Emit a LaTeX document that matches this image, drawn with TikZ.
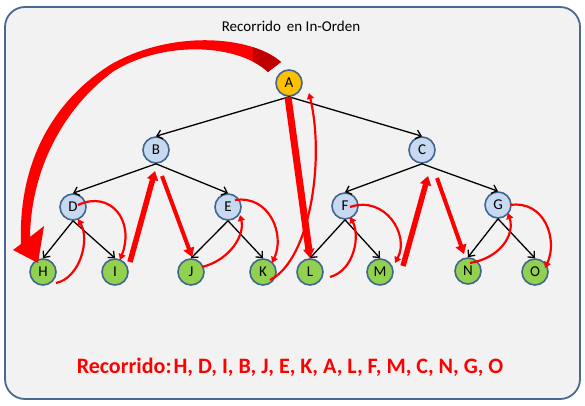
\documentclass[tikz,border=0pt]{standalone}
\usepackage{fontspec}
\setmainfont{Carlito}
\usetikzlibrary{arrows.meta,calc}
\definecolor{bordc}{HTML}{4A6892}
\definecolor{bgc}{HTML}{F2F2F2}
\definecolor{nodeb}{HTML}{41668F}
\definecolor{inner}{HTML}{C6D9F1}
\definecolor{leaf}{HTML}{92D050}
\definecolor{root}{HTML}{FFC000}
\definecolor{rd}{HTML}{FF0000}
\definecolor{drd}{HTML}{C00000}
\tikzset{
  tn/.style={circle, draw=nodeb, line width=1.6pt, minimum size=26pt, inner sep=0pt, font=\fontsize{15}{15}\selectfont},
  inn/.style={tn, fill=inner},
  lf/.style={tn, fill=leaf},
  rt/.style={tn, fill=root},
  edge/.style={draw=black, line width=1.3pt, -{Straight Barb[length=5pt,width=9pt,line width=1.3pt]}},
  thin red/.style={draw=rd, line width=2.2pt, -{Triangle[length=6pt,width=7pt]}},
  thick red/.style={draw=rd, line width=#1, -{Triangle[length=9pt,width=11pt]}},
}
\def\bigarr{(281,62) .. controls (250,35) and (170,30) .. (110,65) .. controls (55,100) and (18,160) .. (21,244) -- (13,250) -- (38,263) -- (44,226) -- (30,237) .. controls (31,170) and (63,108) .. (114,71) .. controls (165,40) and (238,44) .. (268,72) -- cycle}
\begin{document}
\begin{tikzpicture}[x=1pt,y=-1pt]
\useasboundingbox (0,0) rectangle (585,406);
\draw[bordc, line width=1.8pt, fill=bgc, rounded corners=20pt] (5,7) rectangle (580,399);
\node (title) at (291,26) {\fontsize{15}{15}\selectfont Recorrido\hspace{6pt}en In-Orden};
% nodes
\node[rt] (A) at (289,83) {A};
\node[inn] (B) at (156,150) {B};
\node[inn] (C) at (422,150) {C};
\node[inn] (D) at (73,207) {D};
\node[inn] (E) at (228,207) {E};
\node[inn] (F) at (345,206) {F};
\node[inn] (G) at (498,205) {G};
\node[lf] (H) at (43,272) {H};
\node[lf] (I) at (115,272) {I};
\node[lf] (J) at (191,272) {J};
\node[lf] (K) at (263,272) {K};
\node[lf] (L) at (310,272) {L};
\node[lf] (M) at (380,272) {M};
\node[lf] (N) at (468,271) {N};
\node[lf] (O) at (535,272) {O};
% tree edges
\foreach \p/\c in {A/B,A/C,B/D,B/E,C/F,C/G,D/H,D/I,E/J,E/K,F/L,F/M,G/N,G/O}
  \draw[edge] (\p.south) -- (\c.north);
% big arrow A -> H
\fill[rd] \bigarr;
\begin{scope}
\clip (253,0) rectangle (300,100);
\fill[drd] \bigarr;
\end{scope}
% thin curved arrows
\draw[thin red] ($(H)+(13,11)$) .. controls (80,278) and (90,240) .. ($(D)+(5,12)$);
\draw[thin red] ($(D)+(5,-2)$) .. controls (110,190) and (135,220) .. ($(I)+(5,-12)$);
\draw[thin red] ($(J)+(11,-5)$) .. controls (230,260) and (245,235) .. ($(E)+(12,8)$);
\draw[thin red] ($(E)+(7,-7)$) .. controls (270,195) and (285,235) .. ($(K)+(9,-9)$);
\draw[thin red] ($(K)+(7,8)$) .. controls (310,260) and (325,160) .. ($(A)+(20,10)$);
\draw[thin red] ($(L)+(20,5)$) .. controls (355,270) and (360,235) .. ($(F)+(5,11)$);
\draw[thin red] ($(F)+(5,1)$) .. controls (385,195) and (410,235) .. ($(M)+(15,-9)$);
\draw[thin red] ($(N)+(2,-8)$) .. controls (500,258) and (515,235) .. ($(G)+(10,8)$);
\draw[thin red] ($(G)+(12,0)$) .. controls (545,200) and (558,240) .. ($(O)+(10,-4)$);
% straight thick arrows
\draw[thick red=5.5pt] ($(I)+(15,-10)$) -- ($(B)+(-1,21)$);
\draw[thick red=4pt] ($(B)+(6,26)$) -- ($(J)+(1,-15)$);
\draw[thick red=7pt] ($(A)+(-1,14)$) -- ($(L)+(0,-14)$);
\draw[thick red=5.5pt] ($(M)+(23,-6)$) -- ($(C)+(6,26)$);
\draw[thick red=4pt] ($(C)+(15,28)$) -- ($(N)+(-4,-17)$);
% result
\node[text=rd, font=\fontsize{22}{22}\selectfont\bfseries] (res) at (290,367) {Recorrido:\hspace{2pt}H, D, I, B, J, E, K, A, L, F, M, C, N, G, O};
\end{tikzpicture}
\end{document}
